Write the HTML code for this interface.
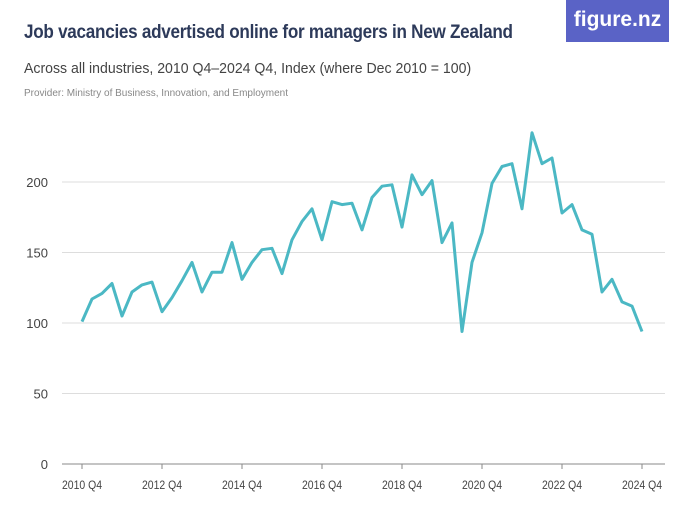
<!DOCTYPE html>
<html><head><meta charset="utf-8"><style>
body{margin:0;width:700px;height:525px;background:#fff;font-family:"Liberation Sans",sans-serif;overflow:hidden;position:relative}
.t{position:absolute;left:24px;top:22px;font-size:19px;color:#2d3a5a;font-weight:bold;letter-spacing:-0.3px;transform:scaleX(0.9);transform-origin:0 0;white-space:nowrap}
.s{position:absolute;left:24px;top:60px;font-size:15px;color:#444;transform:scaleX(0.94);transform-origin:0 0;white-space:nowrap}
.p{position:absolute;left:24px;top:88px;font-size:10px;color:#888;white-space:nowrap}
.logo{position:absolute;left:566px;top:0;width:103px;height:42px;background:#5a63c6;color:#fff;font-size:21px;font-weight:bold;text-align:center;line-height:40px}
</style></head><body>
<div class="t">Job vacancies advertised online for managers in New Zealand</div>
<div class="s">Across all industries, 2010 Q4–2024 Q4, Index (where Dec 2010 = 100)</div>
<div class="p">Provider: Ministry of Business, Innovation, and Employment</div>
<div class="logo">figure.nz</div>
<svg width="700" height="525" style="position:absolute;left:0;top:0" id="s"></svg>
<script>
const d=[101,117,121,128,105,122,127,129,108,118,130,143,122,136,136,157,131,143,152,153,135,159,172,181,159,186,184,185,166,189,197,198,168,205,191,201,157,171,94,143,164,199,211,213,181,235,213,217,178,184,166,163,122,131,115,112,94];
let h='';const Y=v=>464-v*1.41;
for(let v=0;v<=200;v+=50){const y=Y(v);h+=`<line x1="62" x2="665" y1="${y}" y2="${y}" stroke="${v?'#ddd':'#888'}" stroke-width="1"/><text x="48" y="${y+5}" text-anchor="end" font-size="13" fill="#444" font-family="Liberation Sans">${v}</text>`;}
for(let i=0;i<8;i++){const x=82+i*80;h+=`<line x1="${x}" x2="${x}" y1="464" y2="469" stroke="#888"/><text x="${x}" y="489" text-anchor="middle" font-size="11.5" fill="#444" font-family="Liberation Sans" textLength="40" lengthAdjust="spacingAndGlyphs">${2010+2*i} Q4</text>`;}
h+=`<polyline fill="none" stroke="#4bb8c4" stroke-width="3" stroke-linejoin="round" points="${d.map((v,i)=>(82+i*10)+','+Y(v).toFixed(1)).join(' ')}"/>`;
document.getElementById('s').innerHTML=h;
</script>
</body></html>
